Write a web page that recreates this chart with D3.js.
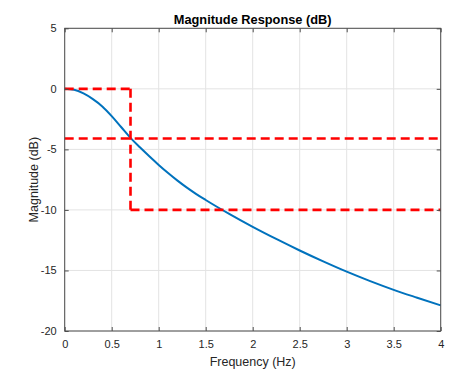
<!DOCTYPE html>
<html>
<head>
<meta charset="utf-8">
<script src="https://cdn.jsdelivr.net/npm/d3@7"></script>
<style>
  html, body { margin: 0; padding: 0; background: #fff; }
  svg { display: block; font-family: "Liberation Sans", Arial, sans-serif; }
</style>
</head>
<body>
<svg id="chart" width="474" height="373"></svg>
<script>
// ---- data ----
const freq = [0, 0.1, 0.2, 0.3, 0.4, 0.5, 0.6, 0.7, 0.8, 0.9, 1.0, 1.1, 1.2, 1.3, 1.4, 1.5, 1.75, 2.0, 2.25, 2.5, 2.75, 3.0, 3.25, 3.5, 3.75, 4.0];
const magDb = [0, -0.08, -0.38, -0.85, -1.45, -2.25, -3.15, -4.05, -4.83, -5.57, -6.28, -6.95, -7.58, -8.16, -8.69, -9.18, -10.33, -11.4, -12.4, -13.35, -14.25, -15.1, -15.88, -16.6, -17.25, -17.88];
// spec mask lines: [x1, x2] and [y1, y2]
const maskX = [[0, 0.7], [0.7, 0.7], [0, 4], [0.7, 4]];
const maskY = [[0, 0], [0, -10], [-4.1, -4.1], [-10, -10]];
const xTicks = [0, 0.5, 1, 1.5, 2, 2.5, 3, 3.5, 4];
const xTickLabels = ["0", "0.5", "1", "1.5", "2", "2.5", "3", "3.5", "4"];
const yTicks = [-20, -15, -10, -5, 0, 5];
const yTickLabels = ["-20", "-15", "-10", "-5", "0", "5"];
const titleText = "Magnitude Response (dB)";
const xLabelText = "Frequency (Hz)";
const yLabelText = "Magnitude (dB)";

// ---- layout ----
const svg = d3.select("#chart");
const L = 64.7, R = 440.7, T = 28.3, B = 331;
const x = d3.scaleLinear().domain([0, 4]).range([L, R]);
const y = d3.scaleLinear().domain([-20, 5]).range([B, T]);

// grid
const grid = svg.append("g");
grid.selectAll("line.gx").data(xTicks).join("line")
  .attr("x1", d => x(d)).attr("x2", d => x(d))
  .attr("y1", T).attr("y2", B)
  .attr("stroke", "#e3e3e3").attr("stroke-width", 1);
grid.selectAll("line.gy").data(yTicks).join("line")
  .attr("y1", d => y(d)).attr("y2", d => y(d))
  .attr("x1", L).attr("x2", R)
  .attr("stroke", "#e3e3e3").attr("stroke-width", 1);

// data line
const line = d3.line().x((d, i) => x(freq[i])).y(d => y(d)).curve(d3.curveMonotoneX);
svg.append("path").datum(magDb)
  .attr("d", line)
  .attr("fill", "none").attr("stroke", "#0072BD").attr("stroke-width", 2);

// mask lines
svg.append("g").selectAll("line").data(maskX).join("line")
  .attr("x1", (d) => x(d[0])).attr("x2", d => x(d[1]))
  .attr("y1", (d, i) => y(maskY[i][0])).attr("y2", (d, i) => y(maskY[i][1]))
  .attr("stroke", "#ff0000").attr("stroke-width", 2.6)
  .attr("stroke-dasharray", "9,5");

// axes (box with inward ticks)
const tickLen = 4;
const axColor = "#4d4d4d";
svg.append("rect").attr("x", L).attr("y", T).attr("width", R - L).attr("height", B - T)
  .attr("fill", "none").attr("stroke", axColor).attr("stroke-width", 1);

const xAxisB = d3.axisBottom(x).tickValues(xTicks).tickFormat((d, i) => xTickLabels[i])
  .tickSizeInner(-tickLen).tickSizeOuter(0).tickPadding(9);
const gxB = svg.append("g").attr("transform", `translate(0,${B})`).call(xAxisB);
const xAxisT = d3.axisTop(x).tickValues(xTicks).tickFormat("").tickSizeInner(-tickLen).tickSizeOuter(0);
const gxT = svg.append("g").attr("transform", `translate(0,${T})`).call(xAxisT);
const yAxisL = d3.axisLeft(y).tickValues(yTicks).tickFormat((d, i) => yTickLabels[i])
  .tickSizeInner(-tickLen).tickSizeOuter(0).tickPadding(8);
const gyL = svg.append("g").attr("transform", `translate(${L},0)`).call(yAxisL);
const yAxisR = d3.axisRight(y).tickValues(yTicks).tickFormat("").tickSizeInner(-tickLen).tickSizeOuter(0);
const gyR = svg.append("g").attr("transform", `translate(${R},0)`).call(yAxisR);

[gxB, gxT, gyL, gyR].forEach(g => {
  g.select(".domain").remove();
  g.selectAll(".tick line").attr("stroke", axColor);
  g.selectAll(".tick text").attr("fill", "#262626")
    .style("font-size", "11px").style("font-family", "'Liberation Sans', Arial, sans-serif");
});

// title and labels
svg.append("text").attr("x", (L + R) / 2).attr("y", 24)
  .attr("text-anchor", "middle").attr("font-weight", "bold")
  .style("font-size", "12.8px").attr("fill", "#000").text(titleText);
svg.append("text").attr("x", (L + R) / 2).attr("y", 366)
  .attr("text-anchor", "middle")
  .style("font-size", "12.5px").attr("fill", "#262626").text(xLabelText);
svg.append("text")
  .attr("transform", `translate(38,${(T + B) / 2}) rotate(-90)`)
  .attr("text-anchor", "middle")
  .style("font-size", "12.5px").attr("fill", "#262626").text(yLabelText);
</script>
</body>
</html>
